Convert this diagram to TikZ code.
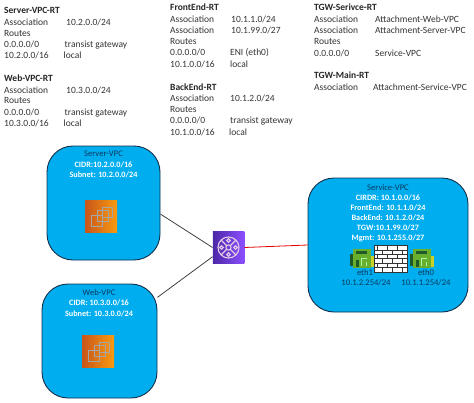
\documentclass[tikz,border=0pt]{standalone}
\usepackage{fontspec}
\setmainfont{Carlito}
\usepackage{tikz}
\usetikzlibrary{arrows.meta, positioning}
\definecolor{vpcblue}{HTML}{00ADEF}
\definecolor{vpcline}{HTML}{12304A}
\definecolor{vpcname}{HTML}{0B3A5E}
\definecolor{rttext}{HTML}{333333}
\definecolor{ec2dark}{HTML}{C8561B}
\definecolor{ec2light}{HTML}{F99A10}
\definecolor{tgwdark}{HTML}{4D27A8}
\definecolor{tgwlight}{HTML}{8C4FFF}
\definecolor{enigreen}{HTML}{6AAE2E}
\definecolor{enidark}{HTML}{1F5A2A}
\definecolor{eniyell}{HTML}{C8D02A}
\tikzset{
  rthead/.style={anchor=base west, yshift=-3pt, inner sep=0pt,
                 font=\fontsize{9.5}{10}\selectfont\bfseries, text=black!85},
  rtcell/.style={anchor=base west, yshift=-3pt, inner sep=0pt,
                 font=\fontsize{9.5}{10}\selectfont, text=rttext},
  vpc/.style   ={draw=vpcline, line width=0.9pt, fill=vpcblue, rounded corners=26pt,
                 inner sep=0pt},
  vpcname/.style={anchor=base, yshift=-2.7pt, inner sep=0pt,
                 font=\fontsize{8.6}{9}\selectfont, text=vpcname},
  vpccidr/.style={anchor=base, yshift=-2.7pt, inner sep=0pt,
                 font=\fontsize{8.2}{9}\selectfont\bfseries, text=white},
  ec2box/.style={minimum size=32pt, inner sep=0pt, shading=axis, shading angle=45,
                 left color=ec2dark, right color=ec2light},
  tgwbox/.style={minimum size=31.5pt, inner sep=0pt, shading=axis, shading angle=45,
                 left color=tgwdark, right color=tgwlight},
  fwbox/.style ={minimum width=32pt, minimum height=26pt, inner sep=0pt, fill=white},
  enibox/.style={minimum width=18pt, minimum height=19pt, inner sep=0pt,
                 fill=enigreen},
  ec2in/.style ={draw=black!35!white, line width=0.9pt},
  tgwin/.style ={draw=white!80!violet, line width=1.1pt},
  brick/.style ={line width=0.9pt, black!80},
  link/.style  ={line width=0.8pt, black!75},
  linkR/.style ={line width=0.8pt, red!90!black},
}
\begin{document}
\begin{tikzpicture}[x=1pt, y=-1pt]
  \useasboundingbox (0,0) rectangle (474,402);

  % route tables, left column
  \node[rthead] (srvT)  at (4,10.5)  {Server-VPC-RT};
  \node[rtcell] (srvA)  at (4,22)    {Association};
  \node[rtcell] (srvAv) at (66,22)   {10.2.0.0/24};
  \node[rtcell] (srvR)  at (4,33.5)  {Routes};
  \node[rtcell] (srvD)  at (4,44.5)  {0.0.0.0/0};
  \node[rtcell] (srvDv) at (64.5,44.5) {transist gateway};
  \node[rtcell] (srvL)  at (4,55.5)  {10.2.0.0/16};
  \node[rtcell] (srvLv) at (63.5,55.5) {local};
  \node[rthead] (webT)  at (4,78.5)  {Web-VPC-RT};
  \node[rtcell] (webA)  at (4,90)    {Association};
  \node[rtcell] (webAv) at (66,90)   {10.3.0.0/24};
  \node[rtcell] (webR)  at (4,100.5) {Routes};
  \node[rtcell] (webD)  at (4,112)   {0.0.0.0/0};
  \node[rtcell] (webDv) at (64.5,112) {transist gateway};
  \node[rtcell] (webL)  at (4,123)   {10.3.0.0/16};
  \node[rtcell] (webLv) at (63.5,123) {local};

  % route tables, middle column
  \node[rthead] (feT)   at (170,7)    {FrontEnd-RT};
  \node[rtcell] (feA)   at (170,19)   {Association};
  \node[rtcell] (feAv)  at (231,19)   {10.1.1.0/24};
  \node[rtcell] (feB)   at (170,30.5) {Association};
  \node[rtcell] (feBv)  at (231,30.5) {10.1.99.0/27};
  \node[rtcell] (feR)   at (170,41.5) {Routes};
  \node[rtcell] (feD)   at (170,52.5) {0.0.0.0/0};
  \node[rtcell] (feDv)  at (230,52.5) {ENI (eth0)};
  \node[rtcell] (feL)   at (170,64)   {10.1.0.0/16};
  \node[rtcell] (feLv)  at (230,64)   {local};
  \node[rthead] (beT)   at (170,87)   {BackEnd-RT};
  \node[rtcell] (beA)   at (170,98)   {Association};
  \node[rtcell] (beAv)  at (230,98)   {10.1.2.0/24};
  \node[rtcell] (beR)   at (170,109)  {Routes};
  \node[rtcell] (beD)   at (170,120)  {0.0.0.0/0};
  \node[rtcell] (beDv)  at (230,120)  {transist gateway};
  \node[rtcell] (beL)   at (170,132)  {10.1.0.0/16};
  \node[rtcell] (beLv)  at (229,132)  {local};

  % route tables, right column
  \node[rthead] (tsT)   at (314,7.5)  {TGW-Serivce-RT};
  \node[rtcell] (tsA)   at (314,19)   {Association};
  \node[rtcell] (tsAv)  at (375,19)   {Attachment-Web-VPC};
  \node[rtcell] (tsB)   at (314,30.5) {Association};
  \node[rtcell] (tsBv)  at (375,30.5) {Attachment-Server-VPC};
  \node[rtcell] (tsR)   at (314,41)   {Routes};
  \node[rtcell] (tsD)   at (314,53)   {0.0.0.0/0};
  \node[rtcell] (tsDv)  at (375,53)   {Service-VPC};
  \node[rthead] (tmT)   at (314,75.5) {TGW-Main-RT};
  \node[rtcell] (tmA)   at (314,87)   {Association};
  \node[rtcell] (tmAv)  at (373,87)   {Attachment-Service-VPC};

  % vpc boxes
  \node[vpc, minimum width=113pt, minimum height=114pt] (server)  at (103.5,203) {};
  \node[vpc, minimum width=115pt, minimum height=114pt] (web)     at (99.5,341)  {};
  \node[vpc, minimum width=160pt, minimum height=134pt] (service) at (388,245)   {};
  \node[tgwbox] (tgw) at (228.5,247.5) {};

  \draw[link]  (server.-11) -- (tgw.west);
  \draw[link]  (web.37) -- (tgw.210);
  \draw[linkR] (tgw.east) -- (service.west);

  \node[vpcname] (serverN) at (103.5,154)   {Server-VPC};
  \node[vpccidr] (serverC) at (103.5,164.5) {CIDR:10.2.0.0/16};
  \node[vpccidr] (serverS) at (103.5,175)   {Subnet: 10.2.0.0/24};
  \node[vpcname] (webN)    at (99,293)      {Web-VPC};
  \node[vpccidr] (webC)    at (99,303)      {CIDR: 10.3.0.0/16};
  \node[vpccidr] (webS)    at (99,313.5)    {Subnet: 10.3.0.0/24};
  \node[vpcname] (serviceN) at (388,188)    {Service-VPC};
  \node[vpccidr] (serviceC) at (388,198)    {CIRDR: 10.1.0.0/16};
  \node[vpccidr] (serviceF) at (388,208)    {FrontEnd: 10.1.1.0/24};
  \node[vpccidr] (serviceB) at (388,217.5)  {BackEnd:  10.1.2.0/24};
  \node[vpccidr] (serviceT) at (388,228)    {TGW:10.1.99.0/27};
  \node[vpccidr] (serviceM) at (388,238)    {Mgmt: 10.1.255.0/27};
  \node[vpcname] (eth1)   at (365,273) {eth1};
  \node[vpcname] (eth0)   at (426,273) {eth0};
  \node[vpcname] (eth1ip) at (366,283) {10.1.2.254/24};
  \node[vpcname] (eth0ip) at (426,283) {10.1.1.254/24};

  % instance icons
  \node[ec2box] (ec2S) at (101,216) {};
  \node[ec2box] (ec2W) at (98,351.5) {};
  \foreach \ic in {ec2S,ec2W}{
    \draw[ec2in] ([shift={(1,-9)}]\ic.center) rectangle ([shift={(11,1)}]\ic.center);
    \draw[ec2in] ([shift={(-4,-6)}]\ic.center) rectangle ([shift={(7,5)}]\ic.center);
    \draw[ec2in] ([shift={(-10,-1)}]\ic.center) rectangle ([shift={(1,10)}]\ic.center);
  }

  % gateway icon
  \draw[tgwin] (tgw.center) circle (10.5pt);
  \draw[tgwin] (tgw.center) circle (2.6pt);
  \foreach \a in {45,135,225,315}
    \draw[tgwin] (tgw.center) ++(\a:2.6pt) -- ++(\a:8pt);
  \foreach \a in {0,90,180,270}
    \draw[tgwin, fill=tgwlight] (tgw.center) ++(\a:7pt) circle (1.8pt);

  % firewall
  \node[fwbox] (fw) at (391,259) {};
  \foreach \row in {1,2,3,4,5}
    \draw[brick] ([shift={(0,\row*4.33)}]fw.north west) -- ([shift={(0,\row*4.33)}]fw.north east);
  \draw[brick] (fw.north west) rectangle (fw.south east);
  \foreach \row/\off in {0/3,1/8,2/3,3/8,4/3,5/8}
    \foreach \col in {0,1,2}
      \draw[brick] ([shift={(\off+\col*10,\row*4.33)}]fw.north west) -- ++(0,4.33);

  % interface icons
  \node[enibox] (eniL) at (362,258.5) {};
  \node[enibox] (eniR) at (422,258.5) {};
  \foreach \ic in {eniL,eniR}{
    \fill[enidark] ([shift={(-3,5)}]\ic.north west) rectangle ([shift={(0,-2)}]\ic.south west);
    \fill[eniyell] ([shift={(0,7)}]\ic.north east) rectangle ([shift={(2.5,-1)}]\ic.south east);
    \fill[enidark] ([shift={(3,2)}]\ic.north west) rectangle ([shift={(14,5)}]\ic.north west);
    \fill[enidark] ([shift={(3,-8)}]\ic.south west) rectangle ([shift={(6,-1)}]\ic.south west);
    \draw[white!65!green, line width=0.9pt] ([shift={(9,-2)}]\ic.south west) -- ++(0,-8) -- ++(5,0);
    \draw[white!65!green, line width=0.9pt] ([shift={(14,-2)}]\ic.south west) -- ++(0,-4);
  }
\end{tikzpicture}
\end{document}
